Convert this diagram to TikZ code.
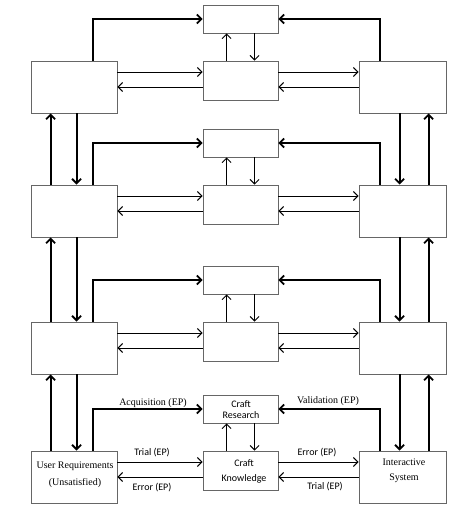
\documentclass[tikz,border=0pt]{standalone}
\usepackage{fontspec}
\setmainfont{Liberation Serif}
\newfontfamily\calibri{Carlito}
\usetikzlibrary{arrows.meta}

\tikzset{
    box/.style={draw=gray!80!black, line width=0.8pt, inner sep=0pt},
    sidebox/.style={box, minimum width=86pt, minimum height=52pt},
    midbox/.style={box, minimum width=75pt, minimum height=39pt},
    topbox/.style={box, minimum width=75pt, minimum height=28pt},
    flow/.style={-{Straight Barb[length=4.5pt,width=9pt]}, line width=1pt},
    bigflow/.style={flow, line width=1.8pt},
}

\begin{document}
\begin{tikzpicture}[x=1pt, y=-1pt]
\useasboundingbox (0,0) rectangle (474,517);

% Four levels, \ky is the top of the knowledge box
\foreach \n/\ky in {1/61, 2/185, 3/322, 4/451}
{
    \node[sidebox] (L\n) at (74,\ky+26) {};
    \node[midbox] (K\n) at (240.5,\ky+19.5) {};
    \node[topbox] (R\n) at (240.5,\ky-42) {};
    \node[sidebox, minimum width=87pt] (S\n) at (402.5,\ky+26) {};

    % up to research and back
    \draw[bigflow] ([xshift=62pt]L\n.north west) |- (R\n.west);
    \draw[bigflow] ([xshift=21pt]S\n.north west) |- (R\n.east);
    \draw[flow] ([xshift=24pt]K\n.north west) -- ([xshift=24pt]R\n.south west);
    \draw[flow] ([xshift=52pt]R\n.south west) -- ([xshift=52pt]K\n.north west);

    % trial and error
    \draw[flow] ([yshift=15pt]L\n.east) -- ([yshift=8.5pt]K\n.west);
    \draw[flow] ([yshift=-6.5pt]K\n.west) -- (L\n.east);
    \draw[flow] ([yshift=8.5pt]K\n.east) -- ([yshift=15pt]S\n.west);
    \draw[flow] (S\n.west) -- ([yshift=-6.5pt]K\n.east);
}

% Links between the levels
\foreach \a/\b in {1/2, 2/3, 3/4}
{
    \draw[bigflow] ([xshift=20pt]L\b.north west) -- ([xshift=20pt]L\a.south west);
    \draw[bigflow] ([xshift=46pt]L\a.south west) -- ([xshift=46pt]L\b.north west);
    \draw[bigflow] ([xshift=41pt]S\a.south west) -- ([xshift=41pt]S\b.north west);
    \draw[bigflow] ([xshift=70pt]S\b.north west) -- ([xshift=70pt]S\a.south west);
}

% Box texts, bottom level
\node[align=center, font=\fontsize{10}{17}\selectfont] (urtext) at (75,475) {User Requirements\\(Unsatisfied)};
\node[align=center, font=\fontsize{10}{15}\selectfont] (istext) at (404,471) {Interactive\\System};
\node[align=center, font=\calibri\fontsize{10}{15}\selectfont] (cktext) at (244,471) {Craft\\Knowledge};
\node[align=center, font=\calibri\fontsize{10}{11}\selectfont] (crtext) at (241,410) {Craft\\Research};

% Labels
\node (acq) at (153,403) {Acquisition (EP)};
\node (val) at (328,401) {Validation (EP)};
\node[font=\calibri] (trialL) at (152,453) {Trial (EP)};
\node[font=\calibri] (errorL) at (152,488) {Error (EP)};
\node[font=\calibri] (errorR) at (317,453) {Error (EP)};
\node[font=\calibri] (trialR) at (325,487) {Trial (EP)};

\end{tikzpicture}
\end{document}
